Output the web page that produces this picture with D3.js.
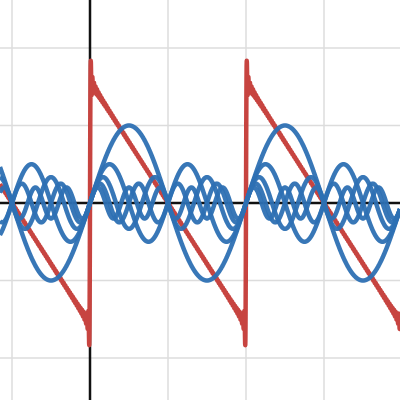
<!DOCTYPE html>
<html><head><meta charset="utf-8">
<script src="https://cdn.jsdelivr.net/npm/d3@7"></script>
<style>body{margin:0;background:#fff}</style>
</head><body>
<script>
// harmonics drawn individually: sin(n x)/n
const harmonics = [1, 2, 3, 4, 5];
// number of terms in the red partial sum
const sumTerms = [100];
const xTicks = [-1, 0, 1, 2, 3, 4];   // in units of pi
const yTicks = [-2, -1, 0, 1, 2];

const width = 400, height = 400;
const x = d3.scaleLinear().domain([-90 / 78, (400 - 90) / 78]).range([0, width]);
const y = d3.scaleLinear().domain([-197 / 77.5, 203 / 77.5]).range([height, 0]);

const svg = d3.select("body").append("svg")
    .attr("width", width).attr("height", height);

// grid
svg.selectAll(".gx").data(xTicks).enter().append("line")
    .attr("x1", d => x(d)).attr("x2", d => x(d))
    .attr("y1", 0).attr("y2", height)
    .style("stroke", "#dcdcdc").style("stroke-width", 1.5);
svg.selectAll(".gy").data(yTicks).enter().append("line")
    .attr("y1", d => y(d)).attr("y2", d => y(d))
    .attr("x1", 0).attr("x2", width)
    .style("stroke", "#dcdcdc").style("stroke-width", 1.5);

// axes
svg.append("line").attr("x1", x(0)).attr("x2", x(0)).attr("y1", 0).attr("y2", height)
    .style("stroke", "#111").style("stroke-width", 2.5);
svg.append("line").attr("y1", y(0)).attr("y2", y(0)).attr("x1", 0).attr("x2", width)
    .style("stroke", "#111").style("stroke-width", 2.5);

const xs = d3.range(0, 3201).map(i => x.invert(i / 8));
const line = d3.line().x(d => x(d[0])).y(d => y(d[1]));

// red partial sum
const N = sumTerms[0];
const red = xs.map(u => {
    const t = u * Math.PI;
    let s = 0;
    for (let n = 1; n <= N; n++) s += Math.sin(n * t) / n;
    return [u, s];
});
svg.append("path").datum(red).attr("d", line)
    .style("fill", "none").style("stroke", "#c74440").style("stroke-width", 4.5)
    .style("stroke-linejoin", "round");

// blue harmonics
harmonics.forEach(n => {
    const pts = xs.map(u => [u, Math.sin(n * u * Math.PI) / n]);
    svg.append("path").datum(pts).attr("d", line)
        .style("fill", "none").style("stroke", "#2d70b3").style("stroke-width", 4.5)
        .style("stroke-opacity", 0.95);
});
</script>
</body></html>
